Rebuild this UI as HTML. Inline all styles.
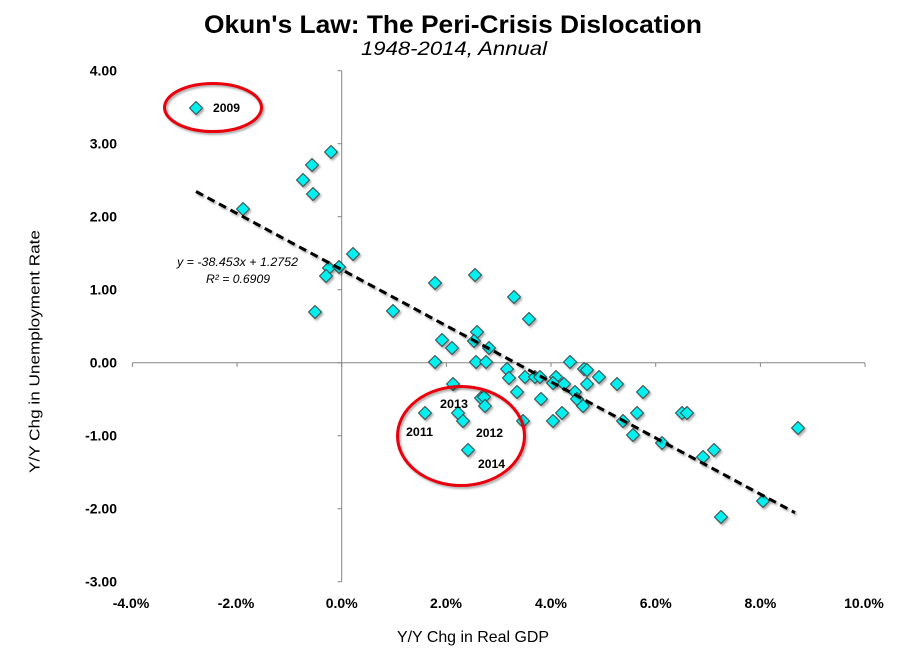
<!DOCTYPE html>
<html>
<head>
<meta charset="utf-8">
<style>
  html,body{margin:0;padding:0;background:#fff;}
  svg{display:block;}
  text{font-family:"Liberation Sans",sans-serif;}
</style>
</head>
<body>
<svg width="912" height="662" viewBox="0 0 912 662" xmlns="http://www.w3.org/2000/svg">
  <defs>
    <filter id="sh" x="-50%" y="-50%" width="200%" height="200%">
      <feDropShadow dx="1.5" dy="1.8" stdDeviation="1" flood-color="#000" flood-opacity="0.35"/>
    </filter>
    <path id="d" d="M0,-6.5 L6.5,0 L0,6.5 L-6.5,0Z"/>
  </defs>
  <rect width="912" height="662" fill="#fff"/>

  <text x="453" y="33" font-size="25" font-weight="bold" text-anchor="middle" textLength="498" lengthAdjust="spacingAndGlyphs" fill="#000">Okun's Law:  The Peri-Crisis Dislocation</text>
  <text x="454" y="55" font-size="19" font-style="italic" text-anchor="middle" textLength="186" lengthAdjust="spacingAndGlyphs" fill="#000">1948-2014, Annual</text>

  <g stroke="#868686" stroke-width="1" fill="none">
    <line x1="341.7" y1="70.7" x2="341.7" y2="581.7"/>
    <line x1="132.4" y1="362.7" x2="865" y2="362.7"/>
    <line x1="337.5" y1="70.7" x2="341.7" y2="70.7"/>
    <line x1="337.5" y1="143.7" x2="341.7" y2="143.7"/>
    <line x1="337.5" y1="216.7" x2="341.7" y2="216.7"/>
    <line x1="337.5" y1="289.7" x2="341.7" y2="289.7"/>
    <line x1="337.5" y1="362.7" x2="341.7" y2="362.7"/>
    <line x1="337.5" y1="435.7" x2="341.7" y2="435.7"/>
    <line x1="337.5" y1="508.7" x2="341.7" y2="508.7"/>
    <line x1="337.5" y1="581.7" x2="341.7" y2="581.7"/>
    <line x1="132.4" y1="362.7" x2="132.4" y2="366.9"/>
    <line x1="237.1" y1="362.7" x2="237.1" y2="366.9"/>
    <line x1="341.7" y1="362.7" x2="341.7" y2="366.9"/>
    <line x1="446.4" y1="362.7" x2="446.4" y2="366.9"/>
    <line x1="551" y1="362.7" x2="551" y2="366.9"/>
    <line x1="655.7" y1="362.7" x2="655.7" y2="366.9"/>
    <line x1="760.4" y1="362.7" x2="760.4" y2="366.9"/>
    <line x1="865" y1="362.7" x2="865" y2="366.9"/>
  </g>

  <g font-size="14" font-weight="bold" fill="#000" text-anchor="end">
    <text x="117" y="75.5">4.00</text>
    <text x="117" y="148.5">3.00</text>
    <text x="117" y="221.5">2.00</text>
    <text x="117" y="294.5">1.00</text>
    <text x="117" y="367.5">0.00</text>
    <text x="117" y="440.5">-1.00</text>
    <text x="117" y="513.5">-2.00</text>
    <text x="117" y="586.5">-3.00</text>
  </g>
  <g font-size="14" font-weight="bold" fill="#000" text-anchor="middle">
    <text x="131" y="608">-4.0%</text>
    <text x="236" y="608">-2.0%</text>
    <text x="341.7" y="608">0.0%</text>
    <text x="446" y="608">2.0%</text>
    <text x="551" y="608">4.0%</text>
    <text x="655.7" y="608">6.0%</text>
    <text x="760.4" y="608">8.0%</text>
    <text x="864" y="608">10.0%</text>
  </g>

  <text x="397" y="642" font-size="16" fill="#000" textLength="152" lengthAdjust="spacingAndGlyphs">Y/Y Chg in Real GDP</text>
  <text transform="translate(39.5,351.5) rotate(-90)" x="0" y="0" font-size="14.5" fill="#000" text-anchor="middle" textLength="243" lengthAdjust="spacingAndGlyphs">Y/Y Chg in Unemployment Rate</text>

  <g fill="#00F0F0" stroke="#3c4a4a" stroke-width="1" filter="url(#sh)">
    <use href="#d" x="196" y="108"/>
    <use href="#d" x="331" y="152"/>
    <use href="#d" x="312" y="165"/>
    <use href="#d" x="303" y="180"/>
    <use href="#d" x="313" y="194"/>
    <use href="#d" x="243" y="209"/>
    <use href="#d" x="353" y="254"/>
    <use href="#d" x="329" y="268"/>
    <use href="#d" x="339" y="267"/>
    <use href="#d" x="326" y="276"/>
    <use href="#d" x="315" y="312"/>
    <use href="#d" x="393" y="311"/>
    <use href="#d" x="435" y="283"/>
    <use href="#d" x="475" y="275"/>
    <use href="#d" x="514" y="297"/>
    <use href="#d" x="529" y="319"/>
    <use href="#d" x="442" y="340"/>
    <use href="#d" x="452" y="348"/>
    <use href="#d" x="477" y="332"/>
    <use href="#d" x="474" y="341"/>
    <use href="#d" x="489" y="348"/>
    <use href="#d" x="435" y="362"/>
    <use href="#d" x="476" y="362"/>
    <use href="#d" x="486" y="362"/>
    <use href="#d" x="507" y="369"/>
    <use href="#d" x="509" y="378"/>
    <use href="#d" x="525" y="377"/>
    <use href="#d" x="535" y="377"/>
    <use href="#d" x="540" y="377"/>
    <use href="#d" x="517" y="392"/>
    <use href="#d" x="541" y="399"/>
    <use href="#d" x="570" y="362"/>
    <use href="#d" x="556" y="377"/>
    <use href="#d" x="553" y="383"/>
    <use href="#d" x="564" y="384"/>
    <use href="#d" x="584" y="369"/>
    <use href="#d" x="587" y="370"/>
    <use href="#d" x="587" y="384"/>
    <use href="#d" x="599" y="377"/>
    <use href="#d" x="617" y="384"/>
    <use href="#d" x="643" y="392"/>
    <use href="#d" x="575" y="392"/>
    <use href="#d" x="577" y="399"/>
    <use href="#d" x="583" y="406"/>
    <use href="#d" x="453" y="384"/>
    <use href="#d" x="481" y="398"/>
    <use href="#d" x="484" y="397"/>
    <use href="#d" x="485" y="406"/>
    <use href="#d" x="425" y="413"/>
    <use href="#d" x="458" y="413"/>
    <use href="#d" x="463" y="421"/>
    <use href="#d" x="468" y="450"/>
    <use href="#d" x="523" y="421"/>
    <use href="#d" x="553" y="421"/>
    <use href="#d" x="562" y="413"/>
    <use href="#d" x="623" y="421"/>
    <use href="#d" x="637" y="413"/>
    <use href="#d" x="633" y="435"/>
    <use href="#d" x="662" y="443"/>
    <use href="#d" x="682" y="413"/>
    <use href="#d" x="687" y="413"/>
    <use href="#d" x="714" y="450"/>
    <use href="#d" x="703" y="457"/>
    <use href="#d" x="763" y="501"/>
    <use href="#d" x="721" y="517"/>
    <use href="#d" x="798" y="428"/>
  </g>

  <line x1="196" y1="191.5" x2="795" y2="512.7" stroke="#000" stroke-width="3" stroke-dasharray="8,5" filter="url(#sh)"/>

  <text x="177" y="266" font-size="12" font-style="italic" fill="#000" textLength="121" lengthAdjust="spacingAndGlyphs">y = -38.453x + 1.2752</text>
  <text x="206" y="283" font-size="12" font-style="italic" fill="#000" textLength="64" lengthAdjust="spacingAndGlyphs">R² = 0.6909</text>

  <g fill="none" stroke="#e8000b" stroke-width="3" filter="url(#sh)">
    <ellipse cx="213" cy="107.5" rx="48.5" ry="24"/>
    <ellipse cx="461" cy="436" rx="63.5" ry="49.5"/>
  </g>

  <g font-size="12" font-weight="bold" fill="#000">
    <text x="213" y="112" textLength="27" lengthAdjust="spacingAndGlyphs">2009</text>
    <text x="440" y="408" textLength="28" lengthAdjust="spacingAndGlyphs">2013</text>
    <text x="406" y="436" textLength="27" lengthAdjust="spacingAndGlyphs">2011</text>
    <text x="476" y="437" textLength="27" lengthAdjust="spacingAndGlyphs">2012</text>
    <text x="478" y="468" textLength="27" lengthAdjust="spacingAndGlyphs">2014</text>
  </g>
</svg>
</body>
</html>
